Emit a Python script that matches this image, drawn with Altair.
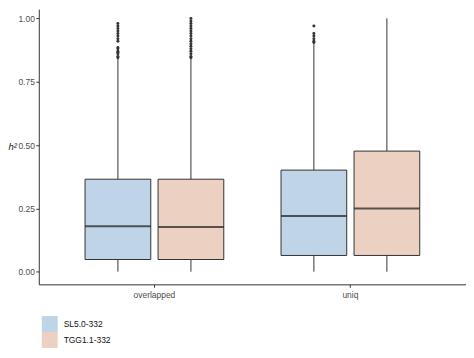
import altair as alt
import pandas as pd

# ---- data ----
groups = ["overlapped", "overlapped", "uniq", "uniq"]
series = ["SL5.0-332", "TGG1.1-332", "SL5.0-332", "TGG1.1-332"]
lower = [0.0, 0.0, 0.0, 0.0]
q1 = [0.048, 0.048, 0.064, 0.064]
median = [0.179, 0.176, 0.220, 0.249]
q3 = [0.365, 0.365, 0.401, 0.476]
upper = [0.840, 0.840, 0.905, 1.0]

outliers_ov_sl = [0.845, 0.85, 0.86, 0.865, 0.87, 0.88, 0.885, 0.91, 0.92, 0.93, 0.94, 0.95, 0.96, 0.97, 0.98]
outliers_ov_tgg = [0.845, 0.85, 0.86, 0.87, 0.88, 0.89, 0.90, 0.91, 0.92, 0.93, 0.94, 0.95, 0.96, 0.97, 0.98, 0.99, 1.0]
outliers_uq_sl = [0.905, 0.91, 0.92, 0.93, 0.94, 0.97]
outliers_uq_tgg = []

series_order = ["SL5.0-332", "TGG1.1-332"]
group_order = ["overlapped", "uniq"]
fill_colors = ["#bfd4e6", "#ecd0c2"]

box_df = pd.DataFrame({
    "group": groups, "series": series, "lower": lower, "q1": q1,
    "median": median, "q3": q3, "upper": upper,
})

out_rows = []
for g, s, vals in [("overlapped", "SL5.0-332", outliers_ov_sl),
                   ("overlapped", "TGG1.1-332", outliers_ov_tgg),
                   ("uniq", "SL5.0-332", outliers_uq_sl),
                   ("uniq", "TGG1.1-332", outliers_uq_tgg)]:
    for v in vals:
        out_rows.append({"group": g, "series": s, "value": v})
out_df = pd.DataFrame(out_rows, columns=["group", "series", "value"])

x_enc = alt.X("group:N", sort=group_order,
              scale=alt.Scale(paddingInner=0, paddingOuter=0.09),
              axis=alt.Axis(title=None, labelAngle=0, labelFontSize=8.5,
                            labelColor="#4d4d4d", tickColor="#333333",
                            tickSize=3, domainColor="#333333", labelPadding=3))
xoff_enc = alt.XOffset("series:N", sort=series_order,
                       scale=alt.Scale(paddingInner=0.1, paddingOuter=0.392))
y_scale = alt.Scale(domain=[-0.05, 1.0365], nice=False, zero=False)

whisker = alt.Chart(box_df).mark_rule(color="#333333", strokeWidth=1).encode(
    x=x_enc, xOffset=xoff_enc,
    y=alt.Y("lower:Q", scale=y_scale,
            axis=alt.Axis(values=[0, 0.25, 0.5, 0.75, 1.0], format=".2f",
                          title="h²", titleAngle=0, titleFontStyle="italic",
                          titleFontSize=9.5, titleFontWeight="normal",
                          titleColor="#222222", titleX=-31, titleY=138,
                          titleAlign="left", titleBaseline="middle",
                          labelFontSize=8.5, labelColor="#4d4d4d",
                          labelPadding=1.5,
                          tickColor="#333333", tickSize=3,
                          domainColor="#333333", grid=False)),
    y2="upper:Q",
)

box = alt.Chart(box_df).mark_bar(stroke="#333333", strokeWidth=1).encode(
    x=x_enc, xOffset=xoff_enc,
    y=alt.Y("q1:Q", scale=y_scale),
    y2="q3:Q",
    color=alt.Color("series:N", sort=series_order,
                    scale=alt.Scale(domain=series_order, range=fill_colors),
                    legend=alt.Legend(title=None, orient="none",
                                      legendX=3, legendY=309,
                                      symbolType="square", symbolSize=256,
                                      symbolStrokeWidth=0, symbolOpacity=1,
                                      rowPadding=0, padding=0, labelOffset=6,
                                      labelFontSize=8.5, labelColor="#111111")),
)

med = alt.Chart(box_df).mark_tick(size=66, thickness=2, color="#1a1a1a").encode(
    x=x_enc, xOffset=xoff_enc,
    y=alt.Y("median:Q", scale=y_scale),
)

pts = alt.Chart(out_df).mark_circle(size=9, color="#333333", opacity=1).encode(
    x=x_enc, xOffset=xoff_enc,
    y=alt.Y("value:Q", scale=y_scale),
)

chart = alt.layer(whisker, box, med, pts).properties(
    width=430, height=277,
    autosize="none",
    padding={"left": 31, "top": 0, "right": 0, "bottom": 72},
).configure_view(stroke=None).configure_axis(
    labelFont="Liberation Sans", titleFont="Liberation Sans"
).configure_legend(labelFont="Liberation Sans")

chart.save("out.html", embed_options={"renderer": "svg", "actions": False})
